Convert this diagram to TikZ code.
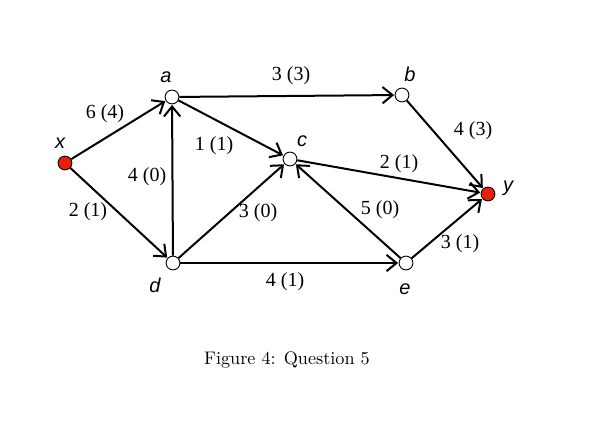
\documentclass[tikz,border=0pt]{standalone}
\usepackage{fontspec}
\newfontfamily\labfont{Liberation Serif}
\newfontfamily\namefont{Liberation Sans}
\usetikzlibrary{arrows.meta}
\definecolor{termred}{RGB}{232,32,10}

\begin{document}
\begin{tikzpicture}[
    x=0.55pt,y=-0.55pt,
    vtx/.style={draw=black, circle, fill=white, minimum size=7.6pt, inner sep=0pt, line width=0.5pt},
    term/.style={vtx, fill=termred},
    vname/.style={font=\namefont\itshape\fontsize{11}{13}\selectfont},
    flowlab/.style={font=\labfont\fontsize{11}{13}\selectfont},
    edge/.style={-{Straight Barb[length=5.5pt,width=9pt]}, line width=1.1pt, shorten >=0.3pt}
  ]
    \useasboundingbox (0,0) rectangle (591,432);

    \node[term] (x) at (65,163) {};
    \node[vtx] (a) at (172,97) {};
    \node[vtx] (b) at (402,95) {};
    \node[vtx] (c) at (290,159) {};
    \node[term] (y) at (488,194) {};
    \node[vtx] (d) at (173,263) {};
    \node[vtx] (e) at (406,263) {};

    \node[vname] (xname) at (60,143) {x};
    \node[vname] (aname) at (166,77) {a};
    \node[vname] (bname) at (410,74) {b};
    \node[vname] (cname) at (302,141) {c};
    \node[vname] (yname) at (508,188) {y};
    \node[vname] (dname) at (155,285) {d};
    \node[vname] (ename) at (405,289) {e};

    \draw[edge] (x) -- (a);
    \draw[edge] (x) -- (d);
    \draw[edge] (d) -- (a);
    \draw[edge] (a) -- (c);
    \draw[edge] (a) -- (b);
    \draw[edge] (b) -- (y);
    \draw[edge] (c) -- (y);
    \draw[edge] (d) -- (c);
    \draw[edge] (e) -- (c);
    \draw[edge] (e) -- (y);
    \draw[edge] (d) -- (e);

    % capacities (flows)
    \node[flowlab] (xa) at (105,114) {6 (4)};
    \node[flowlab] (xd) at (88,212) {2 (1)};
    \node[flowlab] (da) at (147,177) {4 (0)};
    \node[flowlab] (ac) at (214,146) {1 (1)};
    \node[flowlab] (ab) at (291,76) {3 (3)};
    \node[flowlab] (by) at (473,131) {4 (3)};
    \node[flowlab] (cy) at (399,164) {2 (1)};
    \node[flowlab] (dc) at (258,213) {3 (0)};
    \node[flowlab] (ec) at (380,210) {5 (0)};
    \node[flowlab] (ey) at (460,244) {3 (1)};
    \node[flowlab] (de) at (285,282) {4 (1)};

    \node (caption) at (287,360) {Figure 4: Question 5};
  \end{tikzpicture}
\end{document}
